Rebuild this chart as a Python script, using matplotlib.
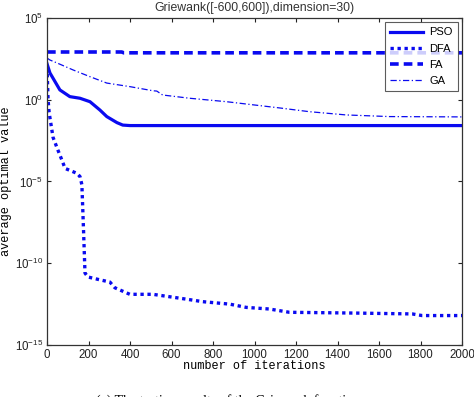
import numpy as np
import matplotlib
matplotlib.use('Agg')
import matplotlib.pyplot as plt
from matplotlib.ticker import NullLocator

# iterations / log10(average optimal value)
pso_x = [0, 14, 62, 110, 159, 207, 255, 288, 337, 365, 400, 2000]
pso_y = [2.2, 1.64, 0.6, 0.19, 0.09, -0.12, -0.63, -1.03, -1.4, -1.55, -1.58, -1.58]

dfa_x = [0, 5, 10, 14, 29, 50, 72, 87, 144, 159, 168, 176, 183, 197, 250, 303, 327,
         399, 510, 673, 750, 880, 960, 1072, 1168, 1500, 1760, 1808, 2000]
dfa_y = [2.0, 0.0, -0.75, -1.1, -2.3, -3.0, -3.7, -4.2, -4.5, -4.7, -5.2, -8.0, -10.6,
         -10.84, -11.0, -11.15, -11.5, -11.9, -11.9, -12.2, -12.35, -12.5, -12.7,
         -12.8, -13.0, -13.05, -13.1, -13.2, -13.2]

fa_x = [0, 360, 370, 2000]
fa_y = [2.92, 2.92, 2.87, 2.87]

ga_x = [0, 14, 48, 126, 207, 288, 400, 510, 529, 557, 688, 865, 1120, 1264, 1442, 1650, 2000]
ga_y = [2.55, 2.43, 2.25, 1.82, 1.41, 1.02, 0.8, 0.55, 0.53, 0.29, 0.09, -0.12, -0.5,
        -0.73, -0.93, -1.03, -1.05]

xticks = [0, 200, 400, 600, 800, 1000, 1200, 1400, 1600, 1800, 2000]
yticks = [1e-15, 1e-10, 1e-5, 1e0, 1e5]

col = '#0a0af0'

fig = plt.figure(figsize=(4.74, 3.97), dpi=100)
ax = fig.add_axes([0.0992, 0.131, 0.8755, 0.8237])

ax.plot(pso_x, 10.0 ** np.array(pso_y), color=col, lw=2.3, ls='-', label='PSO')
ax.plot(dfa_x, 10.0 ** np.array(dfa_y), color=col, lw=2.4, ls=(0, (1, 1.1)), label='DFA')
ax.plot(fa_x, 10.0 ** np.array(fa_y), color=col, lw=2.6, ls=(0, (2.4, 1.4)), label='FA')
ax.plot(ga_x, 10.0 ** np.array(ga_y), color=col, lw=0.9, ls=(0, (5, 2, 1, 2)), label='GA')

ax.set_yscale('log')
ax.set_xlim(0, 2000)
ax.set_ylim(1e-15, 1e5)
ax.set_xticks(xticks)
ax.set_yticks(yticks)
ax.yaxis.set_minor_locator(NullLocator())
ax.tick_params(direction='in', length=3, width=0.8, top=True, right=True,
               labelsize=8.3, pad=3, colors='#222222')
for lab in ax.get_xticklabels() + ax.get_yticklabels():
    lab.set_family('Liberation Sans')
for s in ax.spines.values():
    s.set_linewidth(0.9)
    s.set_color('#333333')

ax.set_xlabel('number of iterations', family='Liberation Mono', fontsize=8.6, labelpad=-1)
ax.set_ylabel('average optimal value', family='Liberation Mono', fontsize=8.6, labelpad=2)
ax.set_title('Griewank([-600,600]),dimension=30)', family='Liberation Sans',
             fontsize=8.8, pad=5, color='#333333')

leg = ax.legend(loc='upper right', fontsize=8, handlelength=3.0, frameon=True,
                fancybox=False, borderaxespad=0.4, labelspacing=0.55,
                borderpad=0.45, handletextpad=0.55)
leg.get_frame().set_edgecolor('#333333')
leg.get_frame().set_linewidth(0.8)
for t in leg.get_texts():
    t.set_family('Liberation Sans')

fig.text(0.48, 0.008, '(c) The testing results of the Griewank function',
         family='Liberation Serif', fontsize=10, ha='center', va='top')

fig.savefig('out.png', dpi=100)
